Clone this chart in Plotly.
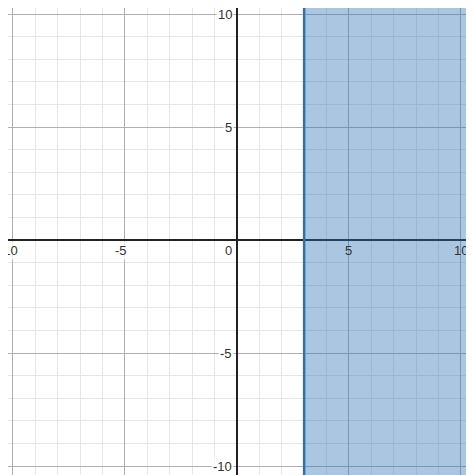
import plotly.graph_objects as go

boundary_x = 3
region_x = [3, 3, 11.5, 11.5]
region_y = [-11.5, 11.5, 11.5, -11.5]
x_ticks = [-10, -5, 5, 10]
y_ticks = [-10, -5, 5, 10]

fig = go.Figure()
fig.add_trace(go.Scatter(x=region_x, y=region_y, fill="toself", mode="none",
                         fillcolor="rgba(45,112,179,0.4)", hoverinfo="skip"))
fig.add_trace(go.Scatter(x=[boundary_x, boundary_x], y=[-11.5, 11.5], mode="lines",
                         line=dict(color="#2d70b3", width=2.5)))

ann = []
for t in x_ticks:
    ann.append(dict(x=t, y=0, text=str(t), showarrow=False,
                    yshift=-10, xshift=-4 if t < 0 else 0,
                    font=dict(family="Arial", size=13, color="#333"),
                    bgcolor="rgba(255,255,255,0.8)" if t < 3 else "rgba(0,0,0,0)"))
for t in y_ticks:
    ann.append(dict(x=0, y=t, text=str(t), showarrow=False, xanchor="right", xshift=-3,
                    font=dict(family="Arial", size=13, color="#333"), bgcolor="rgba(255,255,255,0.8)"))
ann.append(dict(x=0, y=0, text="0", showarrow=False, xanchor="right", xshift=-3, yshift=-10,
                font=dict(family="Arial", size=13, color="#333")))

axis_common = dict(dtick=5, showticklabels=False, gridcolor="#b0b0b0", gridwidth=1,
                   zeroline=True, zerolinecolor="#222", zerolinewidth=2,
                   minor=dict(dtick=1, showgrid=True, gridcolor="#e6e6e6", gridwidth=1),
                   showline=False, fixedrange=True)
fig.update_layout(
    width=474, height=475, margin=dict(l=0, r=0, t=0, b=0),
    plot_bgcolor="white", paper_bgcolor="white", showlegend=False,
    xaxis=dict(range=[-10.22, 10.94], **axis_common),
    yaxis=dict(range=[-10.75, 10.27], **axis_common),
    annotations=ann,
)
fig.write_html("out.html")
